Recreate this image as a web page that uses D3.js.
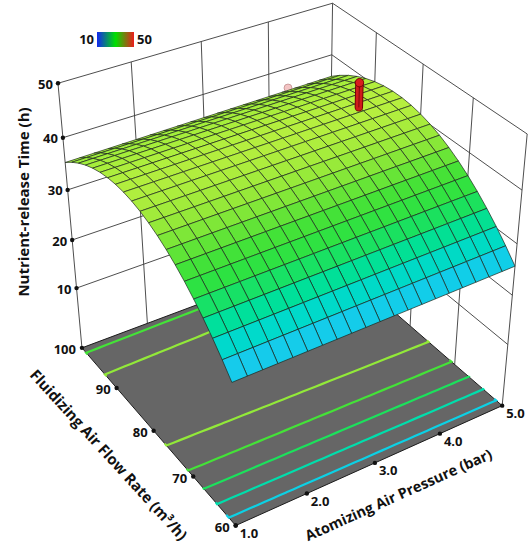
<!DOCTYPE html>
<html>
<head>
<meta charset="utf-8">
<script src="https://cdn.jsdelivr.net/npm/d3@7"></script>
<style>
  body { margin: 0; background: #fff; }
  svg { display: block; font-family: "Open Sans", Lato, sans-serif; font-weight: 700; }
</style>
</head>
<body>
<svg id="chart"></svg>
<script>
// factor A = atomizing air pressure (bar), factor B = fluidizing air flow rate (m3/h)
const pressureTicks = [1, 2, 3, 4, 5];
const flowTicks = [60, 70, 80, 90, 100];
const timeTicks = [10, 20, 30, 40, 50];
const legendValues = [10, 50];

// quadratic model in coded units, estimated from the drawn surface
const modelTerms = ["Intercept", "A", "B", "AB", "A^2", "B^2"];
const modelCoefs = [40.5, 0.2, 5.0, 0, 0, -10.0];

// contour levels projected on the floor
const contourLevels = [27.2, 30.2, 33.2, 36.2, 39.2];

// design points: pressure, flow, observed time
const pointPressure = [4.4, 4.3];
const pointFlow = [85, 100];
const pointTime = [45.9, 36.1];

const W = 531, H = 550;
const zBottom = -3; // floor sits a little under the axis range
const meshSteps = 20;

// camera looking down on the box from the (A low, B low) corner
const view = { azimuth: 57.2, pitch: 33.7, focal: 1641, cx: 293, cy: 217, shift: -0.038, dist: 8.4, eye: 6.86 };
const rad = Math.PI / 180;
const sa = Math.sin(view.azimuth * rad), ca = Math.cos(view.azimuth * rad);
const sp = Math.sin(view.pitch * rad), cp = Math.cos(view.pitch * rad);

const xScale = d3.scaleLinear().domain([1, 5]).range([-1, 1]);
const yScale = d3.scaleLinear().domain([60, 100]).range([-1, 1]);
const zScale = d3.scaleLinear().domain([zBottom, 50]).range([0, 2.03]);

function project(a, f, t) {
  const X = xScale(a), Y = yScale(f), Hh = zScale(t);
  const r = X * sa - Y * ca + view.shift;
  const g = X * ca + Y * sa + view.dist;
  const u = Hh - view.eye;
  const depth = g * cp - u * sp;
  const up = g * sp + u * cp;
  return [view.cx + view.focal * r / depth, view.cy - view.focal * up / depth, depth];
}

function predict(a, f) {
  const A = (a - 3) / 2, B = (f - 80) / 20;
  const terms = [1, A, B, A * B, A * A, B * B];
  return d3.sum(terms, (v, i) => v * modelCoefs[i]);
}

const surfaceColor = d3.scaleLinear()
  .domain([25, 28, 31, 34, 36.5, 39, 41.5])
  .range(["#2cbff7", "#00d7df", "#00e09a", "#26e246", "#48e236", "#8ee838", "#bcf040"])
  .clamp(true);
const litColor = "#b4f23c";

const svg = d3.select("#chart").attr("width", W).attr("height", H);
const line = d3.line();

// back walls
const walls = svg.append("g").attr("fill", "none").attr("stroke", "#3a3a3a").attr("stroke-width", 0.9);
const [aMin, aMax] = xScale.domain();
const [fMin, fMax] = yScale.domain();
timeTicks.forEach((t) => {
  walls.append("path").attr("d", line([project(aMin, fMax, t), project(aMax, fMax, t)]));
  walls.append("path").attr("d", line([project(aMax, fMax, t), project(aMax, fMin, t)]));
});
pressureTicks.slice(1).forEach((a) => {
  walls.append("path").attr("d", line([project(a, fMax, zBottom), project(a, fMax, 50)]));
});
flowTicks.slice(0, -1).forEach((f) => {
  walls.append("path").attr("d", line([project(aMax, f, zBottom), project(aMax, f, 50)]));
});
walls.append("path").attr("d", line([project(aMin, fMax, zBottom), project(aMin, fMax, 50)]));

// floor
const floorPts = [[aMin, fMin], [aMax, fMin], [aMax, fMax], [aMin, fMax]].map(([a, f]) => project(a, f, zBottom));
svg.append("path")
  .attr("d", line(floorPts) + "Z")
  .attr("fill", "#666666")
  .attr("stroke", "#1c1c1c")
  .attr("stroke-width", 1);

// floor contours
const nx = 41, ny = 81;
const grid = new Array(nx * ny);
for (let j = 0; j < ny; j++) {
  for (let i = 0; i < nx; i++) {
    grid[j * nx + i] = predict(aMin + (aMax - aMin) * i / (nx - 1), fMin + (fMax - fMin) * j / (ny - 1));
  }
}
const toA = (x) => aMin + (aMax - aMin) * Math.max(0, Math.min(1, (x - 0.5) / (nx - 1)));
const toF = (y) => fMin + (fMax - fMin) * Math.max(0, Math.min(1, (y - 0.5) / (ny - 1)));
const onEdge = (p, q) => (p[0] <= 0 && q[0] <= 0) || (p[0] >= nx && q[0] >= nx) ||
  (p[1] <= 0 && q[1] <= 0) || (p[1] >= ny && q[1] >= ny);

const contourGroup = svg.append("g").attr("fill", "none").attr("stroke-width", 2.2).attr("stroke-linecap", "round");
d3.contours().size([nx, ny]).thresholds(contourLevels)(grid).forEach((c) => {
  c.coordinates.forEach((poly) => poly.forEach((ring) => {
    let piece = [];
    const pieces = [];
    for (let k = 0; k < ring.length - 1; k++) {
      const p = ring[k], q = ring[k + 1];
      if (onEdge(p, q)) {
        if (piece.length > 1) pieces.push(piece);
        piece = [];
        continue;
      }
      if (!piece.length) piece.push(p);
      piece.push(q);
    }
    if (piece.length > 1) pieces.push(piece);
    pieces.forEach((pc) => {
      contourGroup.append("path")
        .attr("stroke", surfaceColor(c.value))
        .attr("d", line(pc.map((p) => project(toA(p[0]), toF(p[1]), zBottom))));
    });
  }));
});

// axis ticks
const tickGroup = svg.append("g").attr("font-size", 13).attr("fill", "#111");
timeTicks.forEach((t) => {
  const p = project(aMin, fMax, t);
  tickGroup.append("circle").attr("cx", p[0]).attr("cy", p[1]).attr("r", 2.2);
  tickGroup.append("text").attr("x", p[0] - 5).attr("y", p[1] + 1).attr("dy", "0.35em")
    .attr("text-anchor", "end").text(t);
});
flowTicks.forEach((f) => {
  const p = project(aMin, f, zBottom);
  tickGroup.append("circle").attr("cx", p[0]).attr("cy", p[1]).attr("r", 2.2);
  tickGroup.append("text").attr("x", p[0] - 6).attr("y", p[1] + 2).attr("dy", "0.35em")
    .attr("text-anchor", "end").text(f);
});
pressureTicks.forEach((a) => {
  const p = project(a, fMin, zBottom);
  tickGroup.append("circle").attr("cx", p[0]).attr("cy", p[1]).attr("r", 2.2);
  tickGroup.append("text").attr("x", p[0] + 4).attr("y", p[1] + 8).attr("dy", "0.35em")
    .attr("text-anchor", "start").text(d3.format(".1f")(a));
});

// surface facets + hidden design points, painted far to near
const items = [];
const vert = [];
for (let i = 0; i <= meshSteps; i++) {
  vert.push([]);
  for (let j = 0; j <= meshSteps; j++) {
    const a = aMin + (aMax - aMin) * i / meshSteps;
    const f = fMin + (fMax - fMin) * j / meshSteps;
    const t = predict(a, f);
    vert[i].push({ a, f, t, p: project(a, f, t) });
  }
}
const dX = 2 / meshSteps, dY = 2 / meshSteps;
for (let i = 0; i < meshSteps; i++) {
  for (let j = 0; j < meshSteps; j++) {
    const v = [vert[i][j], vert[i + 1][j], vert[i + 1][j + 1], vert[i][j + 1]];
    const tMean = d3.mean(v, (d) => d.t);
    const hx = ((zScale(v[1].t) + zScale(v[2].t)) - (zScale(v[0].t) + zScale(v[3].t))) / (2 * dX);
    const hy = ((zScale(v[2].t) + zScale(v[3].t)) - (zScale(v[0].t) + zScale(v[1].t))) / (2 * dY);
    const nBack = -hy / Math.hypot(hx, hy, 1);
    const lit = Math.max(0, Math.min(1, nBack * 2));
    items.push({
      kind: "facet",
      depth: d3.mean(v, (d) => d.p[2]),
      pts: v.map((d) => d.p),
      fill: d3.interpolateRgb(surfaceColor(tMean), litColor)(lit * 0.9)
    });
  }
}
const redPoints = [];
pointTime.forEach((t, k) => {
  const a = pointPressure[k], f = pointFlow[k];
  const pred = predict(a, f);
  if (t > pred + 1) {
    redPoints.push({ base: project(a, f, pred), top: project(a, f, t) });
  } else {
    const p = project(a, f, t);
    items.push({ kind: "point", depth: p[2] + 0.05, p });
  }
});
items.sort((m, n) => n.depth - m.depth);

const surf = svg.append("g");
items.forEach((d) => {
  if (d.kind === "facet") {
    surf.append("path")
      .attr("d", line(d.pts) + "Z")
      .attr("fill", d.fill)
      .attr("stroke", "#1d261d")
      .attr("stroke-width", 0.7)
      .attr("stroke-linejoin", "round");
  } else {
    surf.append("circle").attr("cx", d.p[0]).attr("cy", d.p[1]).attr("r", 4)
      .attr("fill", "#f3c4c4").attr("stroke", "#b07878").attr("stroke-width", 0.6);
  }
});

// points above the surface, with their stem
redPoints.forEach((d) => {
  const stem = [d.base, d.top];
  svg.append("path").attr("d", line(stem)).attr("stroke", "#6a0000").attr("stroke-width", 8.4).attr("stroke-linecap", "round");
  svg.append("path").attr("d", line(stem)).attr("stroke", "#cf1b1b").attr("stroke-width", 6.6).attr("stroke-linecap", "round");
  svg.append("path").attr("d", line(stem)).attr("stroke", "#5a0000").attr("stroke-width", 0.7);
  svg.append("circle").attr("cx", d.top[0]).attr("cy", d.top[1]).attr("r", 4.2)
    .attr("fill", "#d81e1e").attr("stroke", "#6a0000").attr("stroke-width", 0.8);
});

// axis titles
function edgeTitle(p0, p1, along, out, extraRot, size, label) {
  const len = Math.hypot(p1[0] - p0[0], p1[1] - p0[1]);
  const dir = [(p1[0] - p0[0]) / len, (p1[1] - p0[1]) / len];
  const nrm = [-dir[1], dir[0]];
  const cx = (p0[0] + p1[0]) / 2 + dir[0] * along + nrm[0] * out;
  const cy = (p0[1] + p1[1]) / 2 + dir[1] * along + nrm[1] * out;
  const ang = Math.atan2(dir[1], dir[0]) / rad + extraRot;
  svg.append("text")
    .attr("transform", `translate(${cx},${cy}) rotate(${ang})`)
    .attr("text-anchor", "middle").attr("dy", "0.35em")
    .attr("font-size", size).attr("fill", "#111")
    .text(label);
}
edgeTitle(project(aMin, fMin, zBottom), project(aMax, fMin, zBottom), 15, 39, 0, 14.5, "Atomizing Air Pressure (bar)");
edgeTitle(project(aMin, fMax, zBottom), project(aMin, fMin, zBottom), -19, 50, -1.5, 15, "Fluidizing Air Flow Rate (m³/h)");

svg.append("text")
  .attr("transform", "translate(24,202) rotate(-90)")
  .attr("text-anchor", "middle").attr("dy", "0.35em")
  .attr("font-size", 15).attr("fill", "#111")
  .text("Nutrient-release Time (h)");

// colour legend
const defs = svg.append("defs");
const grad = defs.append("linearGradient").attr("id", "legendGrad");
grad.append("stop").attr("offset", "0%").attr("stop-color", "#1428f0");
grad.append("stop").attr("offset", "50%").attr("stop-color", "#00e000");
grad.append("stop").attr("offset", "100%").attr("stop-color", "#ec1c1c");
svg.append("rect").attr("x", 97).attr("y", 32).attr("width", 37).attr("height", 15).attr("fill", "url(#legendGrad)");
svg.append("text").attr("x", 94).attr("y", 39.5).attr("dy", "0.35em").attr("text-anchor", "end")
  .attr("font-size", 13).attr("fill", "#111").text(legendValues[0]);
svg.append("text").attr("x", 137).attr("y", 39.5).attr("dy", "0.35em").attr("text-anchor", "start")
  .attr("font-size", 13).attr("fill", "#111").text(legendValues[1]);
</script>
</body>
</html>
